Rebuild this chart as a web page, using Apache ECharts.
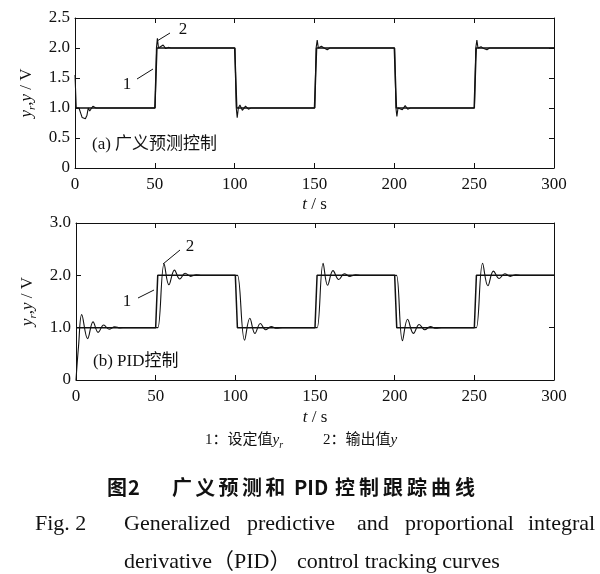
<!DOCTYPE html>
<html>
<head>
<meta charset="utf-8">
<script src="https://cdn.jsdelivr.net/npm/echarts@6.0.0/dist/echarts.min.js"></script>
<style>
  html, body { margin: 0; padding: 0; background: #fff; }
  #main { width: 600px; height: 574px; }
</style>
</head>
<body>
<div id="main"></div>
<script>
// curve 1: setpoint y_r (same square wave in both panels)
var setTime  = [0, 50, 51.3, 100, 101.3, 150, 151.3, 200, 201.3, 250, 251.3, 300];
var setValue = [1, 1,  2,    2,   1,     1,   2,     2,   1,     1,   2,     2];

// curve 2 in panel (a): output y under generalized predictive control
var gpcOutput = [
  [0, 1.55], [0.8, 1.0], [2.5, 1.0], [3.5, 0.92], [4.5, 0.84], [5.5, 0.81], [6.5, 0.82],
  [7.5, 0.88], [8.3, 1.0], [9.2, 0.95], [10.2, 0.96], [11.2, 1.03], [12.2, 1.02], [13.2, 1.0],
  [50.2, 1.0], [51.0, 2.0], [51.6, 2.16], [52.3, 2.0], [53.5, 1.99], [55.2, 2.05], [56.8, 1.99],
  [58.5, 2.01], [60, 2.0],
  [100.2, 2.0], [101.0, 1.0], [101.6, 0.84], [102.3, 1.0], [103.3, 1.05], [104.8, 0.96],
  [106.8, 1.03], [108.6, 0.98], [110.2, 1.0],
  [150.2, 1.0], [151.0, 2.0], [151.7, 2.13], [152.4, 2.0], [154.3, 2.03], [156, 2.0],
  [158, 1.97], [159.6, 2.0],
  [200.2, 2.0], [201.0, 1.0], [201.6, 0.86], [202.3, 1.0], [203.4, 1.03], [205, 0.97],
  [206.8, 1.04], [208.4, 0.98], [210, 1.0],
  [250.2, 1.0], [251.0, 2.0], [251.7, 2.13], [252.4, 2.0], [254.3, 2.02], [256, 1.99],
  [258, 1.97], [259.6, 2.0], [300, 2.0]
];

// curve 2 in panel (b): output y under PID control
var pidOutput = [
  [0, 0], [1.6, 0.65], [3.6, 1.25], [7.3, 0.79], [10.7, 1.11], [13.9, 0.91], [17.4, 1.05],
  [20.8, 0.97], [24.3, 1.015], [27.8, 0.995], [31, 1.0],
  [50.5, 1.0], [51.4, 1.0], [55.3, 2.22], [58.3, 1.82], [61.8, 2.1], [65.1, 1.93], [68.5, 2.04],
  [72, 1.98], [75.5, 2.01], [79, 2.0],
  [100.5, 2.0], [101.4, 2.0], [105.8, 0.76], [109.1, 1.18], [112.3, 0.89], [115.7, 1.08],
  [119, 0.96], [122.5, 1.02], [126, 0.99], [129.5, 1.0],
  [150.5, 1.0], [151.4, 1.0], [155.1, 2.23], [157.9, 1.81], [161.3, 2.09], [164.9, 1.92],
  [168.4, 2.03], [172, 1.98], [175.5, 2.01], [179, 2.0],
  [200.3, 2.0], [201.2, 2.0], [204.9, 0.75], [208.1, 1.16], [211.8, 0.89], [215.4, 1.06],
  [218.9, 0.96], [222.4, 1.02], [226, 0.99], [229.5, 1.0],
  [250.4, 1.0], [251.3, 1.0], [255.2, 2.23], [258.5, 1.8], [262, 2.08], [265.6, 1.94],
  [269.1, 2.03], [272.6, 1.98], [276, 2.01], [279.5, 2.0], [300, 2.0]
];

var serif = "'Liberation Serif', 'Times New Roman', serif";
var mixed = "'Liberation Serif', 'Noto Sans CJK SC', serif";
var cjkSans = "'Noto Sans CJK SC', sans-serif";
var ink = '#111';

var setpoint = setTime.map(function (t, i) { return [t, setValue[i]]; });

var nameRich = {
  i: { fontFamily: serif, fontStyle: 'italic', fontSize: 17, color: ink, lineHeight: 22 },
  s: { fontFamily: serif, fontStyle: 'italic', fontSize: 11, color: ink, lineHeight: 22, verticalAlign: 'bottom' },
  n: { fontFamily: serif, fontSize: 17, color: ink, lineHeight: 22 }
};

function tickFmt(v) { return v === 0 ? '0' : v.toFixed(1); }

var frameLine = { onZero: false, lineStyle: { color: ink, width: 1 } };
var frameTick = { inside: true, length: 5, lineStyle: { color: ink } };

function xAxes(grid, gap) {
  return [{
    gridIndex: grid, type: 'value', min: 0, max: 300, interval: 50, position: 'bottom',
    axisLine: frameLine, axisTick: frameTick,
    axisLabel: { fontFamily: serif, fontSize: 17, color: ink, margin: 8 },
    splitLine: { show: false },
    name: '{i|t}{n| / s}', nameLocation: 'middle', nameGap: gap,
    nameTextStyle: { rich: nameRich }
  }, {
    gridIndex: grid, type: 'value', min: 0, max: 300, interval: 50, position: 'top',
    axisLine: frameLine, axisTick: frameTick,
    axisLabel: { show: false }, splitLine: { show: false }
  }];
}

function yAxes(grid, max, step) {
  return [{
    gridIndex: grid, type: 'value', min: 0, max: max, interval: step, position: 'left',
    axisLine: Object.assign({ show: true }, frameLine),
    axisTick: Object.assign({ show: true }, frameTick),
    axisLabel: { fontFamily: serif, fontSize: 17, color: ink, margin: 5, formatter: tickFmt },
    splitLine: { show: false },
    name: '{i|y}{s|r}{n|,}{i|y}{n| / V}', nameLocation: 'middle', nameGap: 36, nameRotate: 90,
    nameTextStyle: { rich: nameRich }
  }, {
    gridIndex: grid, type: 'value', min: 0, max: max, interval: step, position: 'right',
    axisLine: Object.assign({ show: true }, frameLine),
    axisTick: Object.assign({ show: true }, frameTick),
    axisLabel: { show: false }, splitLine: { show: false }
  }];
}

function curve(data, xi, yi, width, smooth) {
  return {
    type: 'line', xAxisIndex: xi, yAxisIndex: yi, data: data,
    showSymbol: false, smooth: smooth, silent: true,
    lineStyle: { color: ink, width: width }
  };
}

function text(x, y, str, style) {
  return { type: 'text', x: x, y: y, silent: true,
    style: Object.assign({ text: str, fill: ink, align: 'left', verticalAlign: 'middle' }, style) };
}
function line(x1, y1, x2, y2) {
  return { type: 'line', silent: true, shape: { x1: x1, y1: y1, x2: x2, y2: y2 },
    style: { stroke: ink, lineWidth: 1 } };
}
function spaced(str, x0, step, y, style) {
  return str.split('').map(function (ch, i) { return text(x0 + i * step, y, ch, style); });
}

var labelStyle = { fontFamily: mixed, fontSize: 17 };
var titleStyle = { fontFamily: cjkSans, fontSize: 20, fontWeight: 'bold' };
var figStyle = { fontFamily: mixed, fontSize: 22 };
var legendRich = {
  n: { fontFamily: mixed, fontSize: 15, fill: ink, lineHeight: 20 },
  i: { fontFamily: serif, fontStyle: 'italic', fontSize: 15, fill: ink, lineHeight: 20 },
  s: { fontFamily: serif, fontStyle: 'italic', fontSize: 10, fill: ink, lineHeight: 20, verticalAlign: 'bottom' }
};

var graphics = [
  text(92, 145, '(a) 广义预测控制', labelStyle),
  text(93, 362, '(b) PID控制', labelStyle),
  text(183, 30, '2', { fontFamily: serif, fontSize: 17, align: 'center' }),
  line(170, 33, 157, 41),
  text(127, 85, '1', { fontFamily: serif, fontSize: 17, align: 'center' }),
  line(137, 79, 153, 69),
  text(190, 247, '2', { fontFamily: serif, fontSize: 17, align: 'center' }),
  line(180, 250, 163, 264),
  text(127, 302, '1', { fontFamily: serif, fontSize: 17, align: 'center' }),
  line(138, 298, 154, 290),
  text(205, 440, '{n|1：设定值}{i|y}{s|r}', { rich: legendRich }),
  text(323, 440, '{n|2：输出值}{i|y}', { rich: legendRich }),
  text(107, 487, '图', titleStyle),
  text(128, 487, '2', titleStyle),
  text(294, 487, 'PID', titleStyle),
  text(35, 524, 'Fig. 2', figStyle),
  text(124, 524, 'Generalized', figStyle),
  text(247, 524, 'predictive', figStyle),
  text(357, 524, 'and', figStyle),
  text(405, 524, 'proportional', figStyle),
  text(528, 524, 'integral', figStyle),
  text(124, 562, 'derivative（PID） control tracking curves', figStyle)
].concat(spaced('广义预测和', 172, 23.3, 487, titleStyle))
 .concat(spaced('控制跟踪曲线', 335, 24, 487, titleStyle));

var chart = echarts.init(document.getElementById('main'), null, { renderer: 'canvas' });
chart.setOption({
  animation: false,
  backgroundColor: '#fff',
  grid: [
    { left: 75, right: 46, top: 18, height: 150 },
    { left: 76, right: 46, top: 223, height: 157 }
  ],
  xAxis: xAxes(0, 26).concat(xAxes(1, 27)),
  yAxis: yAxes(0, 2.5, 0.5).concat(yAxes(1, 3, 1)),
  series: [
    curve(setpoint, 0, 0, 1.5, false),
    curve(gpcOutput, 0, 0, 1.1, false),
    curve(setpoint, 2, 2, 1.5, false),
    curve(pidOutput, 2, 2, 1.1, 0.4)
  ],
  graphic: graphics
});
</script>
</body>
</html>
